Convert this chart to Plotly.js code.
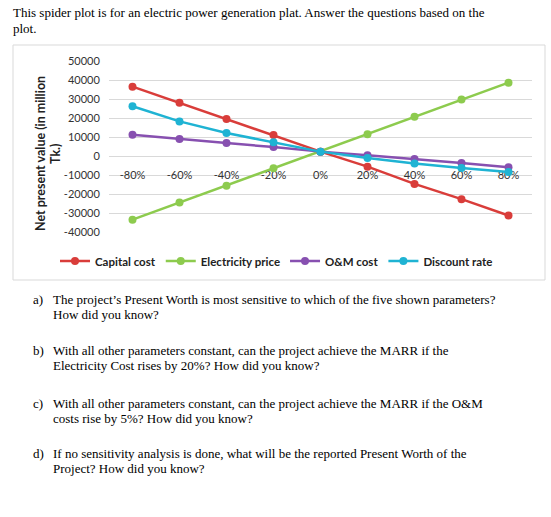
<!DOCTYPE html>
<html>
<head>
<meta charset="utf-8">
<script src="https://cdn.plot.ly/plotly-3.0.1.min.js"></script>
<style>
html,body{margin:0;padding:0;background:#fff;}
#chart{width:551px;height:517px;}
</style>
</head>
<body>
<div id="chart"></div>
<script>
// ---- data ----
const categories = ['-80%','-60%','-40%','-20%','0%','20%','40%','60%','80%'];
const capitalCost = [36500, 28000, 19500, 11000, 2300, -5600, -14700, -22700, -31300];
const electricityPrice = [-33500, -24500, -15600, -6500, 2300, 11500, 20600, 29700, 38600];
const omCost = [11200, 8900, 6800, 4700, 2300, 350, -1600, -3700, -5900];
const discountRate = [26200, 18200, 12100, 7200, 2300, -1000, -4000, -6300, -8400];
const seriesNames = ['Capital cost', 'Electricity price', 'O&M cost', 'Discount rate'];
const yTickVals = [50000, 40000, 30000, 20000, 10000, 0, -10000, -20000, -30000, -40000];

const headerLines = [
  'This spider plot is for an electric power generation plat. Answer the questions based on the',
  'plot.'
];
const questionLabels = ['a)', 'b)', 'c)', 'd)'];
const questionLines = [
  ['The project\u2019s Present Worth is most sensitive to which of the five shown parameters?', 'How did you know?'],
  ['With all other parameters constant, can the project achieve the MARR if the', 'Electricity Cost rises by 20%? How did you know?'],
  ['With all other parameters constant, can the project achieve the MARR if the O&M', 'costs rise by 5%? How did you know?'],
  ['If no sensitivity analysis is done, what will be the reported Present Worth of the', 'Project? How did you know?']
];
const yTitleLines = ['Net present value (in million', 'Tk.)'];

// ---- layout geometry (pixels) ----
const W = 551, H = 517;
const L = 109, R = 532, T = 61, B = 232;
const px = p => (p - L) / (R - L);
const py = p => (B - p) / (B - T);

const colors = ['#d93d3a', '#8dcb4e', '#8750b0', '#1fb3d3'];
const values = [capitalCost, electricityPrice, omCost, discountRate];

const traces = values.map((v, i) => ({
  type: 'scatter',
  mode: 'lines+markers',
  name: seriesNames[i],
  x: categories,
  y: v,
  line: {color: colors[i], width: 2.5},
  marker: {color: colors[i], size: 8, symbol: 'circle'}
}));

const serif = {family: '"Liberation Serif", "Times New Roman", serif', size: 13, color: '#000'};
const annotations = [];
const headerY = [12, 28];
headerLines.forEach((t, i) => annotations.push({
  text: t, xref: 'paper', yref: 'paper', x: px(11), y: py(headerY[i]),
  xanchor: 'left', yanchor: 'middle', showarrow: false, font: serif
}));
const qY = [299, 350, 403, 453];
questionLines.forEach((lines, i) => {
  annotations.push({
    text: questionLabels[i], xref: 'paper', yref: 'paper', x: px(31), y: py(qY[i]),
    xanchor: 'left', yanchor: 'middle', showarrow: false, font: serif
  });
  lines.forEach((t, j) => annotations.push({
    text: t, xref: 'paper', yref: 'paper', x: px(51), y: py(qY[i] + j * 15.5),
    xanchor: 'left', yanchor: 'middle', showarrow: false, font: serif
  }));
});
const titleFont = {family: 'Lato, "Open Sans", sans-serif', size: 12.5, color: '#222', weight: 'bold'};
const yTitleX = [40, 55];
yTitleLines.forEach((t, i) => annotations.push({
  text: t, xref: 'paper', yref: 'paper', x: px(yTitleX[i]), y: py(154),
  xanchor: 'center', yanchor: 'middle', textangle: -90, showarrow: false, font: titleFont
}));

const layout = {
  width: W, height: H,
  margin: {l: L, r: W - R, t: T, b: H - B, pad: 0},
  paper_bgcolor: '#ffffff',
  plot_bgcolor: '#ffffff',
  font: {family: 'Lato, "Open Sans", sans-serif', size: 11, color: '#333'},
  showlegend: true,
  legend: {
    orientation: 'h', x: px(55), y: py(261), xanchor: 'left', yanchor: 'middle',
    font: {family: 'Lato, sans-serif', size: 11.5, color: '#222', weight: 'bold'},
    bgcolor: 'rgba(0,0,0,0)', itemwidth: 30, tracegroupgap: 0
  },
  xaxis: {
    type: 'category',
    categoryorder: 'array', categoryarray: categories,
    range: [-0.5, categories.length - 0.5],
    anchor: 'free', position: (0 - (-40000)) / 90000,
    showgrid: false, zeroline: false, showline: false,
    ticks: 'outside', ticklen: 9, tickcolor: 'rgba(0,0,0,0)',
    tickfont: {family: 'Lato, sans-serif', size: 11, color: '#333'},
    layer: 'below traces', fixedrange: true
  },
  yaxis: {
    range: [-40000, 50000],
    tickmode: 'array', tickvals: yTickVals, ticktext: yTickVals.map(String),
    showgrid: true, gridcolor: '#d9d9d9', gridwidth: 1,
    zeroline: true, zerolinecolor: '#d9d9d9', zerolinewidth: 1,
    showline: false,
    ticks: 'outside', ticklen: 6, tickcolor: 'rgba(0,0,0,0)',
    tickfont: {family: 'Lato, sans-serif', size: 11, color: '#333'},
    fixedrange: true
  },
  shapes: [{
    type: 'rect', xref: 'paper', yref: 'paper',
    x0: px(13), x1: px(545), y0: py(45), y1: py(280),
    line: {color: '#d9d9d9', width: 1}, fillcolor: 'rgba(0,0,0,0)', layer: 'below'
  }],
  annotations: annotations
};

Plotly.newPlot('chart', traces, layout, {displayModeBar: false, staticPlot: true});
</script>
</body>
</html>
